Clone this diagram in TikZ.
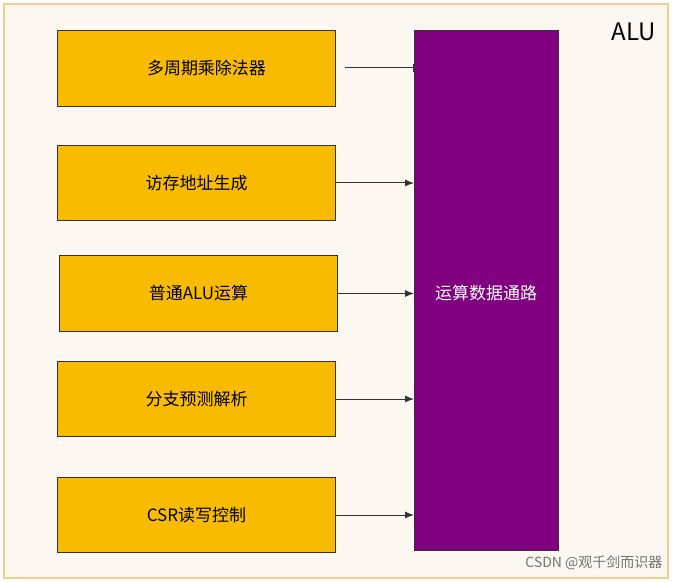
\documentclass[tikz,border=0pt]{standalone}
\usepackage{fontspec}
\setmainfont{Noto Sans CJK SC}
\usetikzlibrary{arrows.meta}
\definecolor{frame}{HTML}{F0D08C}
\definecolor{bg}{HTML}{FCF7F0}
\definecolor{orng}{HTML}{F8BB00}
\definecolor{purp}{HTML}{800080}
\begin{document}
\begin{tikzpicture}[x=1pt,y=-1pt,
  unit/.style={draw=black!80,fill=orng,line width=1pt,anchor=north west,font=\fontsize{17}{20}\selectfont},
  conn/.style={draw=black!80,line width=1pt,-{Latex[length=9pt,width=7pt]}}]
\useasboundingbox (0,0) rectangle (673,583);
\draw[frame,fill=bg,line width=1.2pt] (4,4) rectangle (668,578);
\node[font=\fontsize{24}{26}\selectfont] (alu) at (634,32) {ALU};
\node[draw=black!80,fill=purp,line width=1pt,minimum width=144pt,minimum height=520pt,anchor=north west,inner sep=0pt] (dp) at (414,30) {};
\node[text=white,font=\fontsize{17}{20}\selectfont] (dpt) at (486,293) {运算数据通路};
\node[unit,minimum width=278pt,minimum height=76pt] (m1) at (57,30) {\hspace*{20pt}多周期乘除法器};
\node[unit,minimum width=278pt,minimum height=75pt] (m2) at (57,145) {访存地址生成};
\node[unit,minimum width=278pt,minimum height=76pt] (m3) at (59,255) {普通ALU运算};
\node[unit,minimum width=278pt,minimum height=75pt] (m4) at (57,361) {分支预测解析};
\node[unit,minimum width=278pt,minimum height=75pt] (m5) at (57,477) {CSR读写控制};
\coordinate (s1) at (345,68);
\draw[draw=black!80,line width=1pt,-{Bar[width=8pt]}] (s1) -- (dp.west |- s1);
\draw[conn] (m2.east) -- (dp.west |- m2.east);
\draw[conn] (m3.east) -- (dp.west |- m3.east);
\draw[conn] (m4.east) -- (dp.west |- m4.east);
\draw[conn] (m5.east) -- (dp.west |- m5.east);
\node[text=black!55,font=\fontsize{14}{16}\selectfont,anchor=east] (wm) at (666,563) {CSDN @观千剑而识器};
\end{tikzpicture}
\end{document}
